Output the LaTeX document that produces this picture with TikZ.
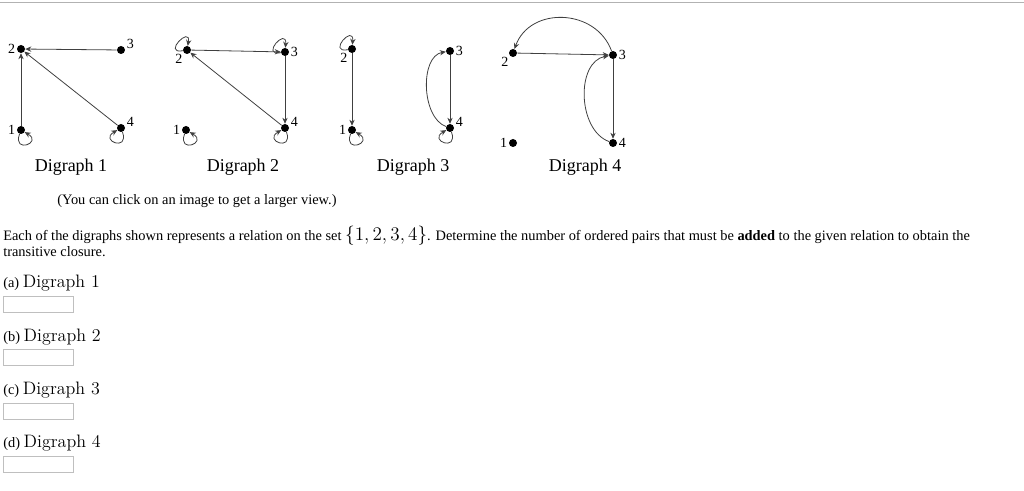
\documentclass[tikz,border=0pt]{standalone}
\usepackage{fontspec}
\setmainfont{Liberation Serif}
\usetikzlibrary{arrows.meta}
\begin{document}
\begin{tikzpicture}[x=0.75pt,y=-0.75pt,
 vtx/.style={circle,fill=black,inner sep=0pt,minimum size=6pt},
 lbl/.style={font=\fontsize{10.5}{11}\selectfont,inner sep=1pt},
 ed/.style={draw=black!75,line width=0.6pt,-{Stealth[length=4.5pt,width=4pt]}},
 lp/.style={ed,min distance=16pt},
 captxt/.style={font=\fontsize{13.5}{15}\selectfont\rmfamily},
 txt/.style={font=\fontsize{10.8}{13}\selectfont,anchor=west,inner sep=0pt},
 ans/.style={draw=black!25,line width=0.5pt,minimum width=52.5pt,minimum height=12pt,inner sep=0pt,anchor=north west}]
\useasboundingbox (0,0) rectangle (1024,491);
\draw[black!30] (0,2) -- (1024,2);
% Digraph 1
\node[vtx] (a2) at (21,49) {}; \node[lbl,left] at (a2.west) {2};
\node[vtx] (a3) at (121,50) {}; \node[lbl,above right] at (a3.east) {3};
\node[vtx] (a1) at (21,130) {}; \node[lbl,left] at (a1.west) {1};
\node[vtx] (a4) at (121,128) {}; \node[lbl,above right] at (a4.east) {4};
\draw[ed] (a1) -- (a2); \draw[ed] (a3) -- (a2); \draw[ed] (a4) -- (a2);
\draw[lp] (a1) to[out=-110,in=-30] (a1);
\draw[lp] (a4) to[out=-70,in=-150] (a4);
% Digraph 2
\node[vtx] (b2) at (187,50) {}; \node[lbl,below left] at (b2.south west) {2};
\node[vtx] (b3) at (285,52) {}; \node[lbl,right] at (b3.east) {3};
\node[vtx] (b1) at (186,130) {}; \node[lbl,left] at (b1.west) {1};
\node[vtx] (b4) at (285,128) {}; \node[lbl,above right] at (b4.east) {4};
\draw[ed] (b2) -- (b3); \draw[ed] (b3) -- (b4); \draw[ed] (b4) -- (b2);
\draw[lp] (b2) to[out=-170,in=80] (b2);
\draw[lp] (b3) to[out=-170,in=85] (b3);
\draw[lp] (b1) to[out=-110,in=-30] (b1);
\draw[lp] (b4) to[out=-70,in=-150] (b4);
% Digraph 3
\node[vtx] (c2) at (352,49) {}; \node[lbl,below left] at (c2.south west) {2};
\node[vtx] (c1) at (352,130) {}; \node[lbl,left] at (c1.west) {1};
\node[vtx] (c3) at (450,51) {}; \node[lbl,right] at (c3.east) {3};
\node[vtx] (c4) at (450,128) {}; \node[lbl,above right] at (c4.east) {4};
\draw[ed] (c2) -- (c1); \draw[ed] (c3) -- (c4);
\draw[ed] (c4) to[out=160,in=190,looseness=0.9] (c3);
\draw[lp] (c2) to[out=-170,in=85] (c2);
\draw[lp] (c1) to[out=-110,in=-30] (c1);
\draw[lp] (c4) to[out=-70,in=-150] (c4);
% Digraph 4
\node[vtx] (d2) at (513,53) {}; \node[lbl,below left] at (d2.south west) {2};
\node[vtx] (d3) at (613,55) {}; \node[lbl,right] at (d3.east) {3};
\node[vtx] (d1) at (513,143) {}; \node[lbl,left] at (d1.west) {1};
\node[vtx] (d4) at (613,143) {}; \node[lbl,right] at (d4.east) {4};
\draw[ed] (d2) -- (d3); \draw[ed] (d3) -- (d4);
\draw[ed] (d3) to[out=110,in=70,looseness=1.2] (d2);
\draw[ed] (d4) to[out=160,in=190,looseness=1.0] (d3);
% captions
\node[captxt] at (71,167) {Digraph 1};
\node[captxt] at (243,167) {Digraph 2};
\node[captxt] at (413,167) {Digraph 3};
\node[captxt] at (585,167) {Digraph 4};
\node[txt] at (57,201) {(You can click on an image to get a larger view.)};
\node[txt] at (3,236) {Each of the digraphs shown represents a relation on the set {\fontspec{Latin Modern Roman}\fontsize{14}{14}\selectfont$\{1,2,3,4\}$}. Determine the number of ordered pairs that must be \textbf{added} to the given relation to obtain the};
\node[txt] at (3,252) {transitive closure.};
\node[txt] at (3,283) {(a) {\fontspec{Latin Modern Roman}\fontsize{13.5}{14}\selectfont Digraph 1}};
\node[ans] (aa) at (3,296) {};
\node[txt] at (3,337) {(b) {\fontspec{Latin Modern Roman}\fontsize{13.5}{14}\selectfont Digraph 2}};
\node[ans] (ab) at (3,349) {};
\node[txt] at (3,390) {(c) {\fontspec{Latin Modern Roman}\fontsize{13.5}{14}\selectfont Digraph 3}};
\node[ans] (ac) at (3,403) {};
\node[txt] at (3,443) {(d) {\fontspec{Latin Modern Roman}\fontsize{13.5}{14}\selectfont Digraph 4}};
\node[ans] (ad) at (3,456) {};
\end{tikzpicture}
\end{document}
